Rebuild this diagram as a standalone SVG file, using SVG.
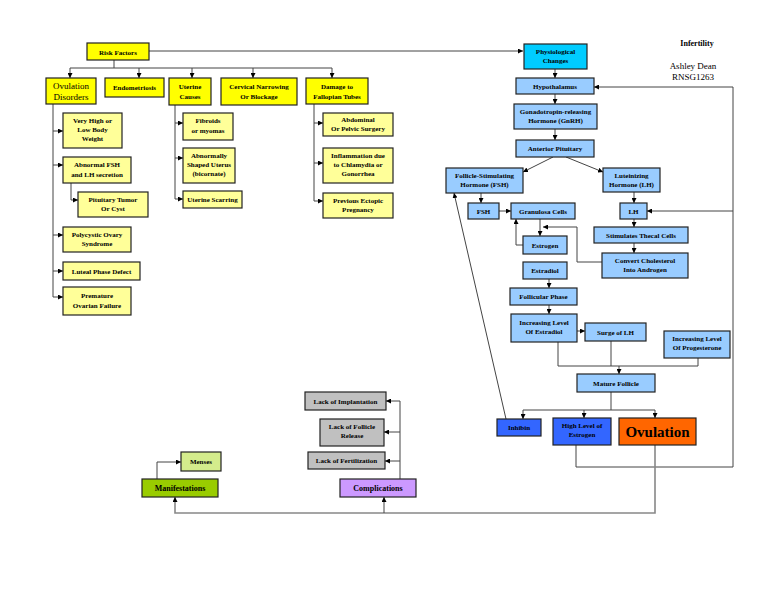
<svg xmlns="http://www.w3.org/2000/svg" width="768" height="594" viewBox="0 0 768 594">
<defs>
<marker id="a" viewBox="0 0 10 10" refX="10" refY="5" markerWidth="5" markerHeight="5" markerUnits="userSpaceOnUse" orient="auto"><path d="M0,0L10,5L0,10z" fill="#000"/></marker>
<style>
rect{stroke:#222;stroke-width:1.2}
.y{fill:#ffff00}.ly{fill:#ffff99}.c{fill:#00ccff}.lb{fill:#99ccff}.db{fill:#3366ff}.o{fill:#ff6600}.g{fill:#c0c0c0}.p{fill:#cc99ff}.gr{fill:#99cc00}.lg{fill:#d4ec8c}
text{font-family:"Liberation Serif","Times New Roman",serif;font-size:7px;font-weight:bold;text-anchor:middle;fill:#000}
.r{font-weight:normal;font-size:9px}
.big{font-size:15px}
#connectors path{fill:none;stroke:#444;stroke-width:1}
#connectors .ar{marker-end:url(#a)}
#connectors .thick{stroke:#888;stroke-width:1.6}
</style>
</defs>
<rect width="768" height="594" fill="#fff" style="stroke:none"/>
<g id="connectors">
<path class="ar" d="M149,51H523"/>
<path d="M114,60V68M70,68H332"/>
<path class="ar" d="M70,68V78"/><path class="ar" d="M139,68V78"/><path class="ar" d="M192,68V78"/><path class="ar" d="M253,68V78"/><path class="ar" d="M332,68V78"/>
<path d="M53,104V297"/>
<path class="ar" d="M53,131H63"/><path class="ar" d="M53,165H63"/><path class="ar" d="M53,235H63"/><path class="ar" d="M53,271H63"/><path class="ar" d="M53,297H63"/>
<path class="ar" d="M71,183V200H78"/>
<path d="M175,105V199"/>
<path class="ar" d="M175,123H183"/><path class="ar" d="M175,158H183"/><path class="ar" d="M175,199H183"/>
<path d="M314,104V201"/>
<path class="ar" d="M314,123H323"/><path class="ar" d="M314,163H323"/><path class="ar" d="M314,201H323"/>
<path class="ar" d="M555,69V78"/><path class="ar" d="M555,94V104"/><path class="ar" d="M555,129V140"/>
<path class="ar" d="M553,157L523,172"/><path class="ar" d="M566,157L603,172"/>
<path class="ar" d="M481,193V203"/><path class="ar" d="M499,211H511"/>
<path class="ar" d="M634,192V203"/><path class="ar" d="M634,219V227"/><path class="ar" d="M634,243V253"/>
<path class="ar" d="M540,219V236"/>
<path class="ar" d="M523,245H516V219"/>
<path class="ar" d="M602,262H577V227H543"/>
<path class="ar" d="M549,279V288"/><path class="ar" d="M549,305V314"/>
<path class="ar" d="M577,331H585"/>
<path d="M558,342V366H698V358M611,341V366"/>
<path class="ar" d="M619,366V374"/>
<path d="M611,392V410M523,410H655"/>
<path class="ar" d="M523,410V419"/><path class="ar" d="M584,410V418"/><path class="ar" d="M655,410V418"/>
<path class="ar" d="M506,419L454,193"/>
<path class="ar" d="M576,445V467H733V87H594"/>
<path class="ar" d="M733,211H647"/>
<path class="ar thick" d="M655,445V513H175V497"/>
<path class="ar" d="M384,513V497"/>
<path class="ar" d="M157,479V462H181"/>
<path class="ar" d="M400,479V401H386"/>
<path class="ar" d="M400,432H384"/><path class="ar" d="M400,461H385"/>
</g>
<g id="risk"><rect class="y" x="87" y="43" width="62" height="17"/><text x="118" y="54.5">Risk Factors</text></g>
<g id="ovdis"><rect class="y" x="46" y="78" width="50" height="26"/><text class="r" x="71" y="89">Ovulation</text><text class="r" x="71" y="100">Disorders</text></g>
<g id="endo"><rect class="y" x="105" y="78" width="59" height="19"/><text x="134.5" y="89.5">Endometriosis</text></g>
<g id="uterine"><rect class="y" x="169" y="78" width="42" height="27"/><text x="190" y="89">Uterine</text><text x="190" y="99">Causes</text></g>
<g id="cervical"><rect class="y" x="221" y="78" width="76" height="27"/><text x="259" y="89">Cervical Narrowing</text><text x="259" y="99">Or Blockage</text></g>
<g id="damage"><rect class="y" x="306" y="78" width="62" height="26"/><text x="337" y="89">Damage to</text><text x="337" y="99">Fallopian Tubes</text></g>
<g id="weight"><rect class="ly" x="63" y="113" width="59" height="35"/><text x="92.5" y="123">Very High or</text><text x="92.5" y="132">Low Body</text><text x="92.5" y="141">Weight</text></g>
<g id="abnfsh"><rect class="ly" x="63" y="157" width="68" height="26"/><text x="97" y="167">Abnormal FSH</text><text x="97" y="177">and LH secretion</text></g>
<g id="pituitary"><rect class="ly" x="78" y="192" width="70" height="25"/><text x="113" y="202">Pituitary Tumor</text><text x="113" y="211">Or Cyst</text></g>
<g id="pcos"><rect class="ly" x="63" y="227" width="68" height="25"/><text x="97" y="237">Polycystic Ovary</text><text x="97" y="246">Syndrome</text></g>
<g id="luteal"><rect class="ly" x="63" y="262" width="77" height="18"/><text x="101.5" y="273.5">Luteal Phase Defect</text></g>
<g id="premature"><rect class="ly" x="63" y="287" width="68" height="28"/><text x="97" y="298">Premature</text><text x="97" y="308">Ovarian Failure</text></g>
<g id="fibroids"><rect class="ly" x="183" y="113" width="50" height="27"/><text x="208" y="123">Fibroids</text><text x="208" y="133">or myomas</text></g>
<g id="shaped"><rect class="ly" x="183" y="148" width="52" height="35"/><text x="209" y="158">Abnormally</text><text x="209" y="167">Shaped Uterus</text><text x="209" y="176">(bicornate)</text></g>
<g id="scarring"><rect class="ly" x="183" y="191" width="59" height="17"/><text x="212.5" y="202">Uterine Scarring</text></g>
<g id="surgery"><rect class="ly" x="323" y="113" width="70" height="23"/><text x="358" y="122">Abdominal</text><text x="358" y="131">Or Pelvic Surgery</text></g>
<g id="inflam"><rect class="ly" x="323" y="148" width="70" height="35"/><text x="358" y="158">Inflammation due</text><text x="358" y="167">to Chlamydia or</text><text x="358" y="176">Gonorrhea</text></g>
<g id="ectopic"><rect class="ly" x="323" y="193" width="70" height="25"/><text x="358" y="203">Previous Ectopic</text><text x="358" y="212">Pregnancy</text></g>
<g id="physio"><rect class="c" x="524" y="44" width="63" height="25"/><text x="555.5" y="54">Physiological</text><text x="555.5" y="63">Changes</text></g>
<g id="title"><text x="697" y="46" style="font-size:8px">Infertility</text><text class="r" x="693" y="69">Ashley Dean</text><text class="r" x="693" y="80">RNSG1263</text></g>
<g id="hypo"><rect class="lb" x="516" y="78" width="78" height="16"/><text x="555" y="88.5">Hypothalamus</text></g>
<g id="gnrh"><rect class="lb" x="514" y="104" width="83" height="25"/><text x="555.5" y="114">Gonadotropin-releasing</text><text x="555.5" y="123">Hormone (GnRH)</text></g>
<g id="anterior"><rect class="lb" x="516" y="140" width="78" height="17"/><text x="555" y="151">Anterior Pituitary</text></g>
<g id="fshbig"><rect class="lb" x="446" y="168" width="77" height="25"/><text x="484.5" y="178">Follicle-Stimulating</text><text x="484.5" y="187">Hormone (FSH)</text></g>
<g id="lhbig"><rect class="lb" x="603" y="168" width="57" height="24"/><text x="631.5" y="178">Luteinizing</text><text x="631.5" y="187">Hormone (LH)</text></g>
<g id="fsh"><rect class="lb" x="468" y="203" width="31" height="16"/><text x="483.5" y="213.5">FSH</text></g>
<g id="granulosa"><rect class="lb" x="511" y="203" width="64" height="16"/><text x="543" y="213.5">Granulosa Cells</text></g>
<g id="lh"><rect class="lb" x="620" y="203" width="27" height="16"/><text x="633.5" y="213.5">LH</text></g>
<g id="thecal"><rect class="lb" x="594" y="227" width="94" height="16"/><text x="641" y="237.5">Stimulates Thecal Cells</text></g>
<g id="estrogen"><rect class="lb" x="523" y="236" width="44" height="18"/><text x="545" y="247.5">Estrogen</text></g>
<g id="convert"><rect class="lb" x="602" y="253" width="86" height="25"/><text x="645" y="263">Convert Cholesterol</text><text x="645" y="272">Into Androgen</text></g>
<g id="estradiol"><rect class="lb" x="523" y="262" width="44" height="17"/><text x="545" y="273">Estradiol</text></g>
<g id="follicular"><rect class="lb" x="510" y="288" width="67" height="17"/><text x="543.5" y="299">Follicular Phase</text></g>
<g id="incestr"><rect class="lb" x="511" y="314" width="66" height="28"/><text x="544" y="325">Increasing Level</text><text x="544" y="334">Of Estradiol</text></g>
<g id="surge"><rect class="lb" x="585" y="323" width="61" height="18"/><text x="615.5" y="334.5">Surge of LH</text></g>
<g id="incprog"><rect class="lb" x="664" y="331" width="66" height="27"/><text x="697" y="341">Increasing Level</text><text x="697" y="350">Of Progesterone</text></g>
<g id="mature"><rect class="lb" x="577" y="374" width="78" height="18"/><text x="616" y="385.5">Mature Follicle</text></g>
<g id="inhibin"><rect class="db" x="497" y="419" width="44" height="17"/><text x="519" y="430">Inhibin</text></g>
<g id="highestr"><rect class="db" x="553" y="418" width="58" height="27"/><text x="582" y="428">High Level of</text><text x="582" y="437">Estrogen</text></g>
<g id="ovulation"><rect class="o" x="619" y="418" width="77" height="27"/><text class="big" x="657.5" y="437">Ovulation</text></g>
<g id="implant"><rect class="g" x="305" y="392" width="81" height="18"/><text x="345.5" y="403.5">Lack of Implantation</text></g>
<g id="release"><rect class="g" x="320" y="419" width="64" height="27"/><text x="352" y="429">Lack of Follicle</text><text x="352" y="438">Release</text></g>
<g id="fertil"><rect class="g" x="308" y="452" width="77" height="17"/><text x="346.5" y="463">Lack of Fertilization</text></g>
<g id="complications"><rect class="p" x="340" y="479" width="76" height="18"/><text x="378" y="491" style="font-size:8px">Complications</text></g>
<g id="manifestations"><rect class="gr" x="142" y="479" width="76" height="18"/><text x="180" y="491" style="font-size:8px">Manifestations</text></g>
<g id="menses"><rect class="lg" x="181" y="452" width="40" height="19"/><text x="201" y="463.5">Menses</text></g>
</svg>
